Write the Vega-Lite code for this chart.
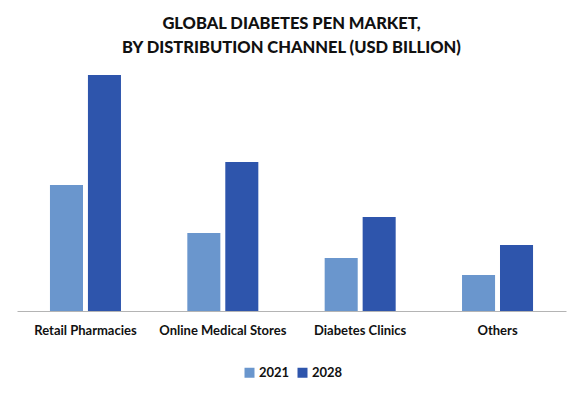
{
  "$schema": "https://vega.github.io/schema/vega-lite/v6.json",
  "width": 549,
  "height": 250,
  "autosize": {"type": "none"},
  "padding": {"left": 17, "top": 61, "right": 13, "bottom": 84},
  "background": "white",
  "title": {
    "text": ["GLOBAL DIABETES PEN MARKET,", "BY DISTRIBUTION CHANNEL (USD BILLION)"],
    "font": "Lato",
    "fontSize": 16.5,
    "fontWeight": 900,
    "color": "#111111",
    "anchor": "middle",
    "offset": 5,
    "lineHeight": 24
  },
  "data": {
    "values": [
      {"channel": "Retail Pharmacies", "year": "2021", "value": 12.6},
      {"channel": "Retail Pharmacies", "year": "2028", "value": 23.6},
      {"channel": "Online Medical Stores", "year": "2021", "value": 7.8},
      {"channel": "Online Medical Stores", "year": "2028", "value": 14.9},
      {"channel": "Diabetes Clinics", "year": "2021", "value": 5.3},
      {"channel": "Diabetes Clinics", "year": "2028", "value": 9.4},
      {"channel": "Others", "year": "2021", "value": 3.6},
      {"channel": "Others", "year": "2028", "value": 6.6}
    ]
  },
  "mark": {"type": "bar"},
  "encoding": {
    "x": {
      "field": "channel",
      "type": "nominal",
      "sort": null,
      "scale": {"paddingInner": 0.483, "paddingOuter": 0.24},
      "axis": {
        "title": null,
        "labelAngle": 0,
        "ticks": false,
        "domainColor": "#b4b4b4",
        "domainWidth": 1,
        "labelFont": "Lato",
        "labelFontSize": 13,
        "labelFontWeight": "bold",
        "labelColor": "#111111",
        "labelPadding": 13
      }
    },
    "xOffset": {
      "field": "year",
      "type": "nominal",
      "scale": {"paddingInner": 0.13, "paddingOuter": 0}
    },
    "y": {
      "field": "value",
      "type": "quantitative",
      "scale": {"domain": [0, 25]},
      "axis": null
    },
    "color": {
      "field": "year",
      "type": "nominal",
      "scale": {"domain": ["2021", "2028"], "range": ["#6a96cd", "#2e55ac"]},
      "legend": {
        "title": null,
        "orient": "none",
        "direction": "horizontal",
        "legendX": 226,
        "legendY": 305,
        "symbolType": "square",
        "symbolSize": 100,
        "symbolStrokeWidth": 0,
        "labelFont": "Lato",
        "labelFontSize": 13,
        "labelFontWeight": "bold",
        "labelColor": "#111111",
        "columnPadding": 6,
        "labelOffset": 3
      }
    }
  },
  "config": {
    "view": {"stroke": null}
  }
}
